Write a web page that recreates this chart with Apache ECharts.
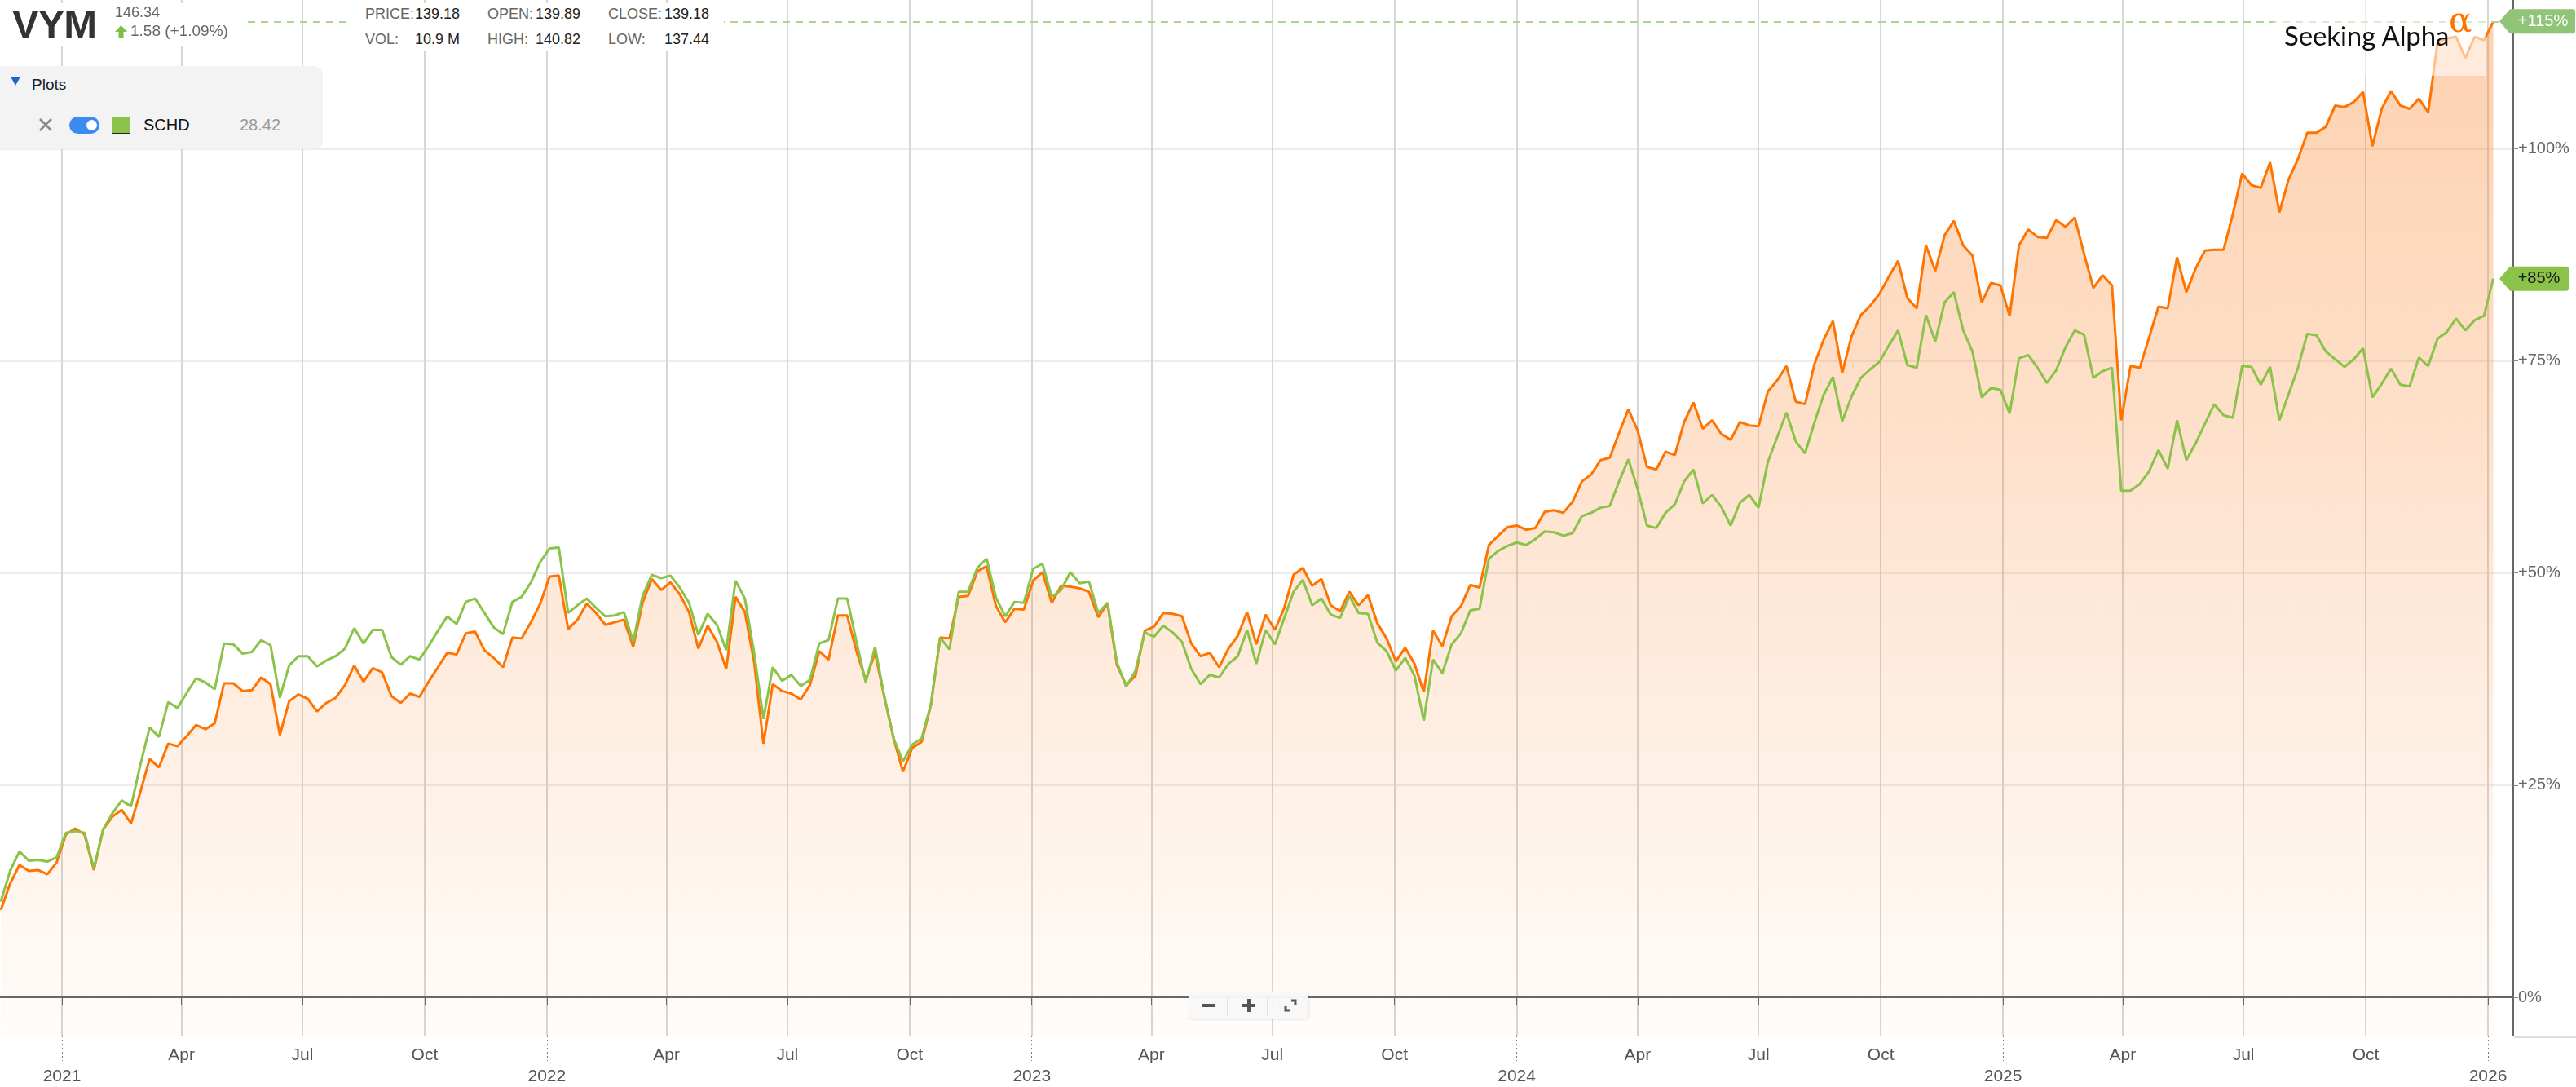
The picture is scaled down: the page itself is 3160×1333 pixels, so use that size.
<!DOCTYPE html>
<html>
<head>
<meta charset="utf-8">
<script src="https://cdn.jsdelivr.net/npm/echarts@6/dist/echarts.min.js"></script>
<style>
  html, body { margin:0; padding:0; background:#fff; }
  #wrap { position:relative; width:3160px; height:1333px; overflow:hidden; font-family:"Liberation Sans", Arial, sans-serif; }
  #chart { position:absolute; left:0; top:0; width:3160px; height:1333px; }
  .ov { position:absolute; z-index:5; }
  .cell { position:absolute; width:auto; font-size:18px; line-height:22px; }
  .cell .l { color:#666; position:absolute; left:0; top:0; white-space:nowrap; }
  .cell .v { color:#222; position:absolute; right:0; top:0; white-space:nowrap; }
</style>
</head>
<body>
<div id="wrap">
  <div id="chart"></div>

  <!-- header: symbol -->
  <div class="ov" style="left:0;top:4px;width:298px;height:52px;background:#fff;"></div>
  <div class="ov" style="left:15px;top:0px;font-weight:bold;font-size:49px;line-height:58px;color:#333;letter-spacing:-1px;">VYM</div>
  <div class="ov" style="left:141px;top:4px;font-size:18px;line-height:22px;color:#666;">146.34</div>
  <svg class="ov" style="left:141px;top:31px;" width="15" height="16" viewBox="0 0 15 16"><polygon points="7.5,0 15,8 10.5,8 10.5,16 4.5,16 4.5,8 0,8" fill="#7cc242"/></svg>
  <div class="ov" style="left:160px;top:27px;font-size:19px;line-height:22px;color:#666;">1.58 (+1.09%)</div>

  <!-- header: OHLC table -->
  <div class="ov" style="left:432px;top:4px;width:456px;height:58px;background:#fff;"></div>
  <div class="ov cell" style="left:448px;top:6px;width:116px;height:22px;"><span class="l">PRICE:</span><span class="v">139.18</span></div>
  <div class="ov cell" style="left:598px;top:6px;width:114px;height:22px;"><span class="l">OPEN:</span><span class="v">139.89</span></div>
  <div class="ov cell" style="left:746px;top:6px;width:124px;height:22px;"><span class="l">CLOSE:</span><span class="v">139.18</span></div>
  <div class="ov cell" style="left:448px;top:37px;width:116px;height:22px;"><span class="l">VOL:</span><span class="v">10.9 M</span></div>
  <div class="ov cell" style="left:598px;top:37px;width:114px;height:22px;"><span class="l">HIGH:</span><span class="v">140.82</span></div>
  <div class="ov cell" style="left:746px;top:37px;width:124px;height:22px;"><span class="l">LOW:</span><span class="v">137.44</span></div>

  <!-- plots panel -->
  <div class="ov" style="left:0;top:81px;width:396px;height:102px;background:#f3f3f3;border-radius:0 10px 10px 0;"></div>
  <div class="ov" style="left:13px;top:94px;width:0;height:0;border-left:6px solid transparent;border-right:6px solid transparent;border-top:11px solid #1a62d6;"></div>
  <div class="ov" style="left:39px;top:92px;font-size:19px;line-height:24px;color:#222;">Plots</div>
  <svg class="ov" style="left:47px;top:144px;" width="18" height="18" viewBox="0 0 18 18"><path d="M2,2 L16,16 M16,2 L2,16" stroke="#8a8a8a" stroke-width="2.6"/></svg>
  <div class="ov" style="left:85px;top:143px;width:37px;height:21px;border-radius:11px;background:#3b8bf2;"></div>
  <div class="ov" style="left:106px;top:147px;width:13px;height:13px;border-radius:7px;background:#fff;"></div>
  <div class="ov" style="left:137px;top:143px;width:21px;height:19px;background:#8bc34a;border:1.5px solid #222;"></div>
  <div class="ov" style="left:176px;top:141px;font-size:20px;line-height:24px;color:#111;">SCHD</div>
  <div class="ov" style="left:294px;top:141px;font-size:20px;line-height:24px;color:#999;">28.42</div>

  <!-- logo -->
  <div class="ov" style="left:2790px;top:0;width:259px;height:93px;background:rgba(255,255,255,0.55);"></div>
  <div class="ov" style="left:2802px;top:18px;font-family:Lato, 'Noto Sans', sans-serif;font-size:33px;line-height:50px;color:#111;letter-spacing:-0.1px;">Seeking Alpha</div>
  <div class="ov" style="left:3004px;top:2px;font-family:'DejaVu Serif', 'Noto Sans', serif;font-size:42px;line-height:46px;color:#ff7300;">α</div>

  <!-- zoom controls -->
  <div class="ov" style="left:1459px;top:1217px;width:146px;height:32px;background:rgba(248,248,248,0.97);border-radius:4px;box-shadow:0 1px 3px rgba(0,0,0,0.18);"></div>
  <div class="ov" style="left:1505px;top:1222px;width:1px;height:24px;background:#e4e4e4;"></div>
  <div class="ov" style="left:1554px;top:1222px;width:1px;height:24px;background:#e4e4e4;"></div>
  <div class="ov" style="left:1474px;top:1231px;width:16px;height:4px;background:#555;"></div>
  <div class="ov" style="left:1524px;top:1231px;width:16px;height:4px;background:#555;"></div>
  <div class="ov" style="left:1530px;top:1225px;width:4px;height:16px;background:#555;"></div>
  <svg class="ov" style="left:1574px;top:1224px;" width="18" height="18" viewBox="0 0 18 18"><path d="M10,3 L15,3 L15,8 M3,10 L3,15 L8,15" stroke="#555" stroke-width="3" fill="none"/></svg>

  <!-- axis line continuation -->
  <div class="ov" style="left:3084px;top:1271px;width:76px;height:2px;background:#dcdcdc;"></div>
</div>

<script>
// ---------------- data ----------------
// weekly closes, % change; first week starting date below
const START_DATE = '2020-11-16';
const VYM = [
10.3,13.4,15.6,14.9,15.0,14.5,15.9,19.2,19.9,19.2,
15.0,19.8,21.3,22.1,20.5,24.2,28.1,27.1,29.9,29.6,
30.8,32.1,31.6,32.3,37.0,37.0,36.1,36.2,37.7,36.9,
30.9,34.9,35.7,35.2,33.7,34.7,35.3,36.8,39.1,37.2,
38.8,38.3,35.5,34.7,35.8,35.4,37.2,38.9,40.6,40.4,
42.9,43.1,40.9,40.0,38.9,42.4,42.3,44.2,46.4,49.6,
49.7,43.4,44.5,46.4,45.3,43.9,44.2,44.5,41.3,46.5,
49.3,48.0,48.9,47.5,45.4,41.1,43.8,41.9,38.7,47.2,
45.4,39.5,29.9,36.9,36.1,35.8,35.1,36.8,40.8,39.8,
45.0,45.0,40.8,37.4,40.6,35.4,30.5,26.6,29.4,30.1,
34.4,42.4,42.3,47.2,47.3,50.2,50.8,46.1,44.2,45.8,
45.7,49.1,50.1,46.5,48.5,48.4,48.2,47.8,44.8,46.4,
39.2,36.8,37.9,43.2,43.7,45.3,45.2,44.9,41.7,40.2,
40.6,38.9,41.1,42.6,45.4,41.6,45.1,43.3,45.9,49.8,
50.6,48.5,49.3,46.2,45.5,47.8,46.2,47.4,44.1,42.3,
39.6,41.2,39.3,36.0,43.2,41.4,44.9,46.1,48.6,48.3,
53.3,54.4,55.4,55.6,55.1,55.3,57.2,57.4,57.1,58.4,
60.8,61.6,63.3,63.6,66.5,69.3,66.8,62.5,62.2,64.3,
63.9,67.8,70.1,67.0,68.0,66.4,65.7,67.8,67.4,67.3,
71.4,72.7,74.4,70.2,69.9,74.6,77.5,79.7,73.6,77.9,
80.4,81.5,82.9,84.9,86.8,82.4,81.2,88.6,85.6,89.8,
91.5,88.6,87.4,81.9,84.2,83.9,80.3,88.6,90.5,89.6,
89.5,91.6,90.8,91.9,87.6,83.6,85.1,83.9,68.0,74.4,
74.2,77.8,81.4,81.2,87.2,83.1,85.9,88.0,88.1,88.1,
92.3,97.1,95.7,95.4,98.4,92.5,96.4,98.8,101.9,101.9,
102.6,105.1,104.9,105.5,106.7,100.3,104.7,106.8,105.1,104.7,
105.9,104.3,112.5,113.0,113.2,110.7,113.2,112.8,115.0
];
const SCHD = [
11.3,14.9,17.2,16.1,16.2,16.0,16.5,19.4,19.6,19.4,
15.2,19.8,21.7,23.2,22.5,27.4,31.8,30.7,34.8,34.1,
35.9,37.6,37.1,36.3,41.7,41.6,40.5,40.7,42.1,41.5,
35.3,39.1,40.2,40.2,39.0,39.7,40.2,41.1,43.5,41.7,
43.3,43.3,40.1,39.2,40.2,39.8,41.4,43.2,44.9,44.0,
46.6,47.0,45.3,43.6,42.8,46.6,47.2,48.9,51.3,52.9,
53.0,45.3,46.2,47.0,45.9,44.9,45.0,45.4,41.9,47.3,
49.8,49.4,49.7,48.3,46.5,42.7,45.2,43.9,40.9,49.1,
47.0,40.6,32.8,38.9,37.3,38.0,36.7,37.4,41.7,42.1,
47.0,47.0,41.9,37.1,41.3,35.4,30.5,27.8,29.8,30.5,
34.5,42.4,41.0,47.8,47.8,50.6,51.7,47.1,44.9,46.6,
46.5,50.5,51.1,47.2,48.0,50.1,48.8,49.0,45.3,46.5,
39.5,36.6,38.5,43.0,42.5,43.8,43.0,41.9,38.7,36.9,
38.0,37.7,39.3,40.2,43.3,39.3,43.3,41.6,44.7,47.8,
49.2,46.2,47.0,45.1,44.7,47.3,45.3,45.2,41.8,40.8,
38.5,40.0,37.9,32.6,39.8,38.2,41.6,42.9,45.6,45.8,
51.7,52.6,53.2,53.6,53.3,54.0,54.9,54.8,54.4,54.7,
56.7,57.1,57.7,57.9,60.8,63.4,59.9,55.6,55.3,57.1,
58.1,60.8,62.2,58.2,59.2,57.8,55.6,58.3,59.2,57.7,
63.1,66.0,68.9,65.5,64.1,67.7,71.0,73.1,67.9,70.8,
73.0,74.0,74.9,76.8,78.6,74.5,74.2,80.4,77.3,81.9,
83.1,78.6,76.1,70.7,71.8,71.6,68.8,75.3,75.7,74.2,
72.4,73.9,76.6,78.6,78.1,73.0,73.8,74.2,59.7,59.7,
60.5,62.0,64.5,62.3,68.0,63.3,65.3,67.6,69.9,68.6,
68.3,74.4,74.3,72.2,74.3,68.0,71.1,74.2,78.2,78.0,
76.1,75.2,74.3,75.2,76.5,70.7,72.3,74.1,72.2,72.0,
75.4,74.4,77.6,78.4,80.0,78.6,79.8,80.3,84.7
];
const X_TICKS = ['2021-01-01','2021-04-01','2021-07-01','2021-10-01',
  '2022-01-01','2022-04-01','2022-07-01','2022-10-01',
  '2023-01-01','2023-04-01','2023-07-01','2023-10-01',
  '2024-01-01','2024-04-01','2024-07-01','2024-10-01',
  '2025-01-01','2025-04-01','2025-07-01','2025-10-01','2026-01-01'];
const X_LABELS = ['2021','Apr','Jul','Oct','2022','Apr','Jul','Oct','2023','Apr','Jul','Oct',
  '2024','Apr','Jul','Oct','2025','Apr','Jul','Oct','2026'];
const Y_TICKS = [0, 25, 50, 75, 100];
const X_RANGE = ['2020-11-15T09:00:00Z', '2026-01-20T00:30:00Z'];
const Y_RANGE = [-4.51, 117.53];

// ---------------- build ----------------
const DAY = 86400000;
const t0 = Date.parse(START_DATE + 'T00:00:00Z');
const dates = VYM.map((_, i) => t0 + i * 7 * DAY);
const tickTs = X_TICKS.map(s => Date.parse(s + 'T00:00:00Z'));
const yearTs = tickTs.filter((_, i) => /^\d{4}$/.test(X_LABELS[i]));
const vymData = dates.map((d, i) => [d, VYM[i]]);
const schdData = dates.map((d, i) => [d, SCHD[i]]);
const last = VYM.length - 1;

const chart = echarts.init(document.getElementById('chart'), null, {renderer: 'canvas'});
const xMin = Date.parse(X_RANGE[0]), xMax = Date.parse(X_RANGE[1]);

function tagPath(w) {
  return 'path://M0,15 L13,0 L' + (w - 3) + ',0 Q' + w + ',0 ' + w + ',3 L' + w + ',27 Q' + w + ',30 ' + (w - 3) + ',30 L13,30 Z';
}

chart.setOption({
  animation: false,
  backgroundColor: '#fff',
  grid: { left: 0, right: 77, top: 0, bottom: 61, containLabel: false },
  xAxis: [{
    type: 'value', min: xMin, max: xMax, position: 'bottom',
    axisLine: { show: true, lineStyle: { color: '#666', width: 2 } },
    axisTick: { show: true, customValues: tickTs, length: 10, lineStyle: { color: '#666', width: 1 } },
    axisLabel: {
      show: true, customValues: tickTs, margin: 11,
      fontFamily: 'Liberation Sans', fontSize: 21, color: '#555', lineHeight: 26,
      formatter: function (v) {
        let k = -1; let best = 1e15;
        for (let i = 0; i < tickTs.length; i++) { const d = Math.abs(tickTs[i] - v); if (d < best) { best = d; k = i; } }
        const lab = X_LABELS[k];
        return /^\d{4}$/.test(lab) ? '\n' + lab : lab;
      }
    },
    splitLine: { show: true, lineStyle: { color: '#d6d6d6', width: 2 } }
  }, {
    type: 'value', min: xMin, max: xMax, position: 'bottom',
    axisLine: { show: false },
    axisTick: { show: true, customValues: yearTs, length: 31, lineStyle: { color: '#777', width: 1, type: [2, 3] } },
    axisLabel: { show: false },
    splitLine: { show: false }
  }],
  yAxis: {
    type: 'value', position: 'right', min: Y_RANGE[0], max: Y_RANGE[1],
    axisLine: { show: true, lineStyle: { color: '#666', width: 2 } },
    axisTick: { show: true, customValues: Y_TICKS, length: 6, lineStyle: { color: '#888' } },
    axisLabel: {
      show: true, customValues: Y_TICKS, margin: 6,
      fontFamily: 'Liberation Sans', fontSize: 20, color: '#666',
      formatter: v => (v === 0 ? '0%' : '+' + v + '%')
    },
    splitLine: { show: true, lineStyle: { color: '#ececec', width: 2 } }
  },
  series: [{
    name: 'VYM', type: 'line', data: vymData, showSymbol: false, symbol: 'none',
    lineStyle: { color: '#ff7300', width: 3 },
    itemStyle: { color: '#ff7300' },
    areaStyle: {
      origin: 'start',
      color: { type: 'linear', x: 0, y: 0, x2: 0, y2: 1, colorStops: [
        { offset: 0, color: 'rgba(250,125,30,0.50)' },
        { offset: 0.35, color: 'rgba(250,125,30,0.36)' },
        { offset: 0.7, color: 'rgba(250,125,30,0.18)' },
        { offset: 1, color: 'rgba(250,125,30,0.03)' }
      ] }
    },
    z: 2,
    markLine: {
      silent: true, symbol: 'none', animation: false,
      label: { show: false },
      lineStyle: { color: '#a9d690', width: 2, type: [9, 7] },
      data: [{ yAxis: VYM[last] }]
    },
    markPoint: {
      silent: true, animation: false,
      symbol: tagPath(93), symbolSize: [93, 30], symbolOffset: [54, 0],
      itemStyle: { color: '#90c476' },
      label: { show: true, position: 'inside', offset: [7, 0], color: '#fff', fontFamily: 'Liberation Sans', fontSize: 20,
        formatter: p => '+' + Math.round(p.value) + '%' },
      data: [{ coord: [dates[last], VYM[last]], value: VYM[last] }]
    }
  }, {
    name: 'SCHD', type: 'line', data: schdData, showSymbol: false, symbol: 'none',
    lineStyle: { color: '#8bc34a', width: 3 },
    itemStyle: { color: '#8bc34a' },
    z: 3,
    markPoint: {
      silent: true, animation: false,
      symbol: tagPath(85), symbolSize: [85, 30], symbolOffset: [50, 0],
      itemStyle: { color: '#8bc34a' },
      label: { show: true, position: 'inside', offset: [6, 0], color: '#1a1a1a', fontFamily: 'Liberation Sans', fontSize: 20,
        formatter: p => '+' + Math.round(p.value) + '%' },
      data: [{ coord: [dates[last], SCHD[last]], value: SCHD[last] }]
    }
  }]
});
</script>
</body>
</html>
